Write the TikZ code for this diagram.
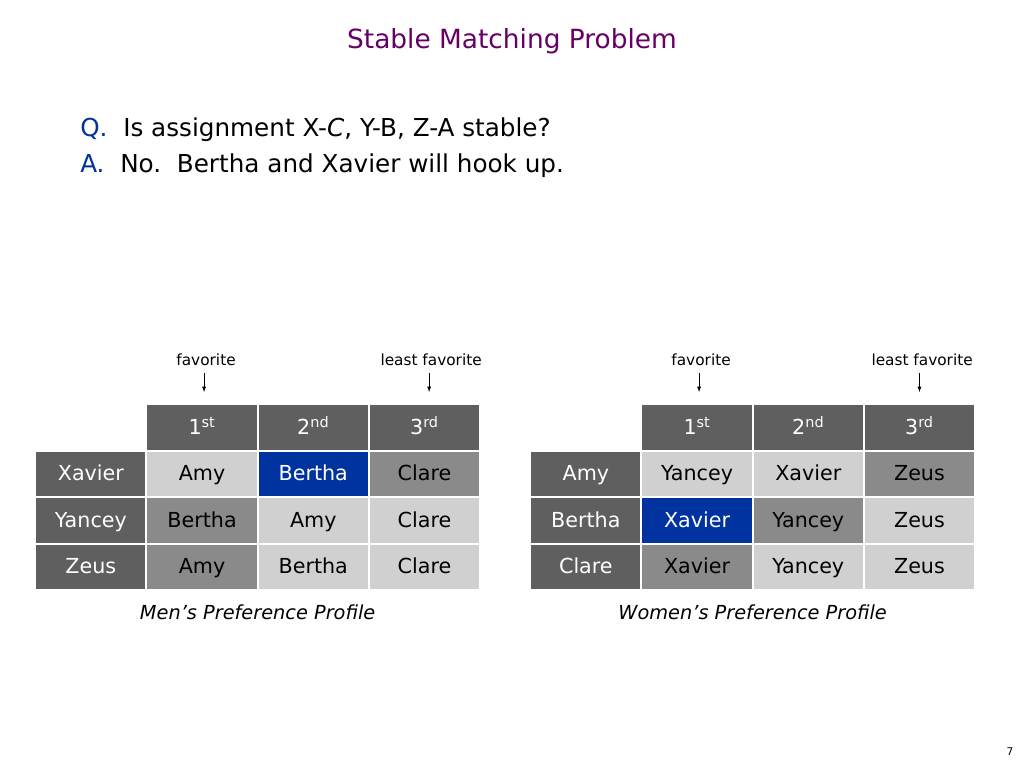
\documentclass[tikz,border=0pt]{standalone}
\usepackage{fontspec}
\setmainfont{DejaVu Sans}
\usetikzlibrary{matrix,arrows,positioning}

\definecolor{titlepurple}{RGB}{102,0,102}
\definecolor{qblue}{RGB}{0,51,153}
\definecolor{pickblue}{RGB}{0,51,160}
\definecolor{darkcell}{RGB}{95,95,95}
\definecolor{midcell}{RGB}{138,138,138}
\definecolor{lightcell}{RGB}{208,208,208}

\tikzset{
  cell/.style={fill=lightcell, text=black, minimum width=81.9pt, minimum height=33.4pt,
    inner sep=0pt, anchor=center, text height=12pt, text depth=2pt,
    font=\fontsize{15.5}{18}\selectfont},
  head/.style={fill=darkcell, text=white},
  mid/.style={fill=midcell},
  pick/.style={fill=pickblue, text=white},
  pref/.style={matrix of nodes, inner sep=0pt, row sep=1.5pt, column sep=1.5pt,
    nodes={cell}, anchor=north west},
  note/.style={font=\fontsize{11.5}{13}\selectfont, inner sep=1pt},
  caption/.style={font=\fontsize{14.5}{17}\selectfont\itshape},
  line/.style={font=\fontsize{18.5}{22}\selectfont, inner sep=0pt, anchor=base west},
}

\begin{document}
\begin{tikzpicture}[x=0.75pt, y=-0.75pt, >=latex]
\path[fill=white] (0,0) rectangle (1024,768);
\useasboundingbox (0,0) rectangle (1024,768);

% title and question
\node[font=\fontsize{19.8}{24}\selectfont, text=titlepurple, anchor=base] (title) at (512,48) {Stable Matching Problem};
\node[line, text=qblue] (q) at (80,136) {Q.};
\node[line] (qtext) at (123,136) {Is assignment X-\textit{C}, Y-B, Z-A stable?};
\node[line, text=qblue] (a) at (80,172) {A.};
\node[line] (atext) at (120,172) {No.\ \ Bertha and Xavier will hook up.};

% men
\matrix (men) [pref] at (36,405)
{
 & |[head]| 1\textsuperscript{st} & |[head]| 2\textsuperscript{nd} & |[head]| 3\textsuperscript{rd} \\
|[head]| Xavier & Amy & |[pick]| Bertha & |[mid]| Clare \\
|[head]| Yancey & |[mid]| Bertha & Amy & Clare \\
|[head]| Zeus & |[mid]| Amy & Bertha & Clare \\
};

% women
\matrix (women) [pref] at (531,405)
{
 & |[head]| 1\textsuperscript{st} & |[head]| 2\textsuperscript{nd} & |[head]| 3\textsuperscript{rd} \\
|[head]| Amy & Yancey & Xavier & |[mid]| Zeus \\
|[head]| Bertha & |[pick]| Xavier & |[mid]| Yancey & Zeus \\
|[head]| Clare & |[mid]| Xavier & Yancey & Zeus \\
};

% favorite markers
\node[note] (mfav) at ([xshift=3pt,yshift=34pt]men-1-2.north) {favorite};
\node[note] (mleast) at ([xshift=5pt,yshift=34pt]men-1-4.north) {least favorite};
\node[note] (wfav) at ([xshift=3pt,yshift=34pt]women-1-2.north) {favorite};
\node[note] (wleast) at ([xshift=2pt,yshift=34pt]women-1-4.north) {least favorite};
\coordinate (mfa) at ([xshift=1.5pt,yshift=9.75pt]men-1-2.north);
\coordinate (mla) at ([xshift=3.5pt,yshift=9.75pt]men-1-4.north);
\coordinate (wfa) at ([xshift=1.5pt,yshift=9.75pt]women-1-2.north);
\coordinate (wla) at ([xshift=0pt,yshift=9.75pt]women-1-4.north);
\draw[->, shorten <=4pt] (mfav.south -| mfa) -- (mfa);
\draw[->, shorten <=4pt] (mleast.south -| mla) -- (mla);
\draw[->, shorten <=4pt] (wfav.south -| wfa) -- (wfa);
\draw[->, shorten <=4pt] (wleast.south -| wla) -- (wla);

% captions
\node[caption] (mcap) at ([yshift=-17pt]men.south) {Men’s Preference Profile};
\node[caption] (wcap) at ([yshift=-17pt]women.south) {Women’s Preference Profile};

\node[font=\fontsize{8}{10}\selectfont] (page) at (1010,752) {7};
\end{tikzpicture}
\end{document}
